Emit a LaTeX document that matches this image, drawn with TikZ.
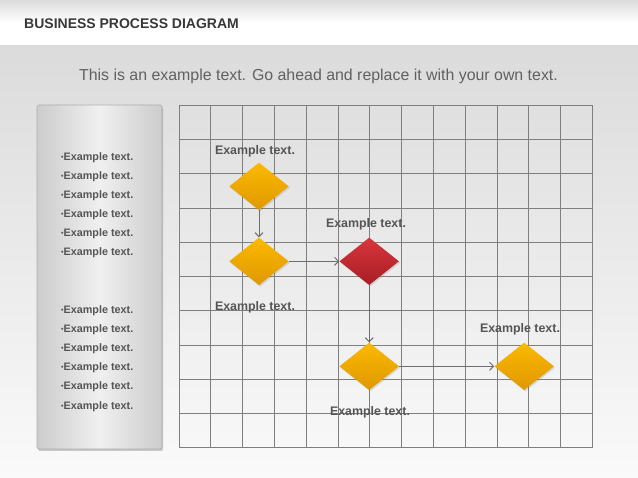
\documentclass[tikz,border=0pt]{standalone}
\usepackage{fontspec}
\setmainfont{Liberation Sans}
\usetikzlibrary{shapes.geometric,arrows.meta,shadows}
\definecolor{txtgray}{HTML}{555555}
\definecolor{gridgray}{HTML}{7F7F7F}
\definecolor{conngray}{HTML}{6E6E6E}
\definecolor{goldtop}{HTML}{FBB900}
\definecolor{goldbot}{HTML}{E09800}
\definecolor{redtop}{HTML}{D8353C}
\definecolor{redbot}{HTML}{A81E26}
\begin{document}
\begin{tikzpicture}[x=1pt,y=-1pt,
  golddia/.style={diamond, minimum width=59.5pt, minimum height=47.5pt, inner sep=0pt, draw=none,
     top color=goldtop, bottom color=goldbot, drop shadow={shadow xshift=1pt,shadow yshift=-1.5pt,opacity=0.25}},
  reddia/.style={golddia, top color=redtop, bottom color=redbot},
  lbl/.style={font=\bfseries\fontsize{12.4}{14}\selectfont, text=txtgray, inner sep=0pt},
  bul/.style={font=\bfseries\fontsize{10.8}{12}\selectfont, text=txtgray, inner sep=0pt, anchor=west},
  conn/.style={draw=conngray, line width=1pt, -{Straight Barb[length=4pt,width=8pt,line width=1pt]}}
]
\useasboundingbox (0,0) rectangle (638,478);
% background
\fill[top color=white!86!black, bottom color=white!98!black] (0,45) rectangle (638,478);
\fill[top color=white!86!black, bottom color=white, middle color=white] (0,0) rectangle (638,45);
\fill[white] (0,34) rectangle (638,45);
% title
\node[anchor=west, inner sep=0pt, font=\bfseries\fontsize{14}{16}\selectfont, text=black!78] (title) at (24,24) {BUSINESS PROCESS DIAGRAM};
\node[inner sep=0pt, font=\fontsize{15.9}{18}\selectfont, text=black!62] (subtitle) at (318.5,76) {This is an example text. Go ahead and replace it with your own text.};
% left panel
\node[draw=white!68!black, line width=0.6pt, rounded corners=1.5pt, minimum width=125pt, minimum height=344pt,
  left color=white!80!black, right color=white!80!black, middle color=white!94!black,
  drop shadow={shadow xshift=1pt,shadow yshift=-2pt,opacity=0.4}, inner sep=0pt] (panel) at (99.5,277) {};
\foreach \i/\yy in {1/156,2/175,3/194,4/213,5/232,6/251,7/309,8/328,9/347,10/366,11/385,12/405}{
  \node[bul] (b\i) at (61,\yy+1.8) {{\fontsize{7}{8}\selectfont\raisebox{0.8pt}{\textbullet}}Example text.};
}
% grid
\foreach \c in {0,...,13}{
  \draw[gridgray, line width=0.9pt] ({179+\c*31.8},105.3) -- ({179+\c*31.8},447.7);
}
\foreach \r in {0,...,10}{
  \draw[gridgray, line width=0.9pt] (179,{105.3+\r*34.24}) -- (592.4,{105.3+\r*34.24});
}
% diamonds
\node[golddia] (d1) at (259,186.3) {};
\node[golddia] (d2) at (259,261.3) {};
\node[reddia]  (d3) at (369.2,261.3) {};
\node[golddia] (d4) at (369.2,366.3) {};
\node[golddia] (d5) at (524.2,366.3) {};
% connectors
\draw[conn] (d1.south) -- (d2.north);
\draw[conn] (d2.east) -- (d3.west);
\draw[conn] (d3.south) -- (d4.north);
\draw[conn] (d4.east) -- (d5.west);
% labels
\node[lbl] (l1) at (255,151.3) {Example text.};
\node[lbl] (l2) at (366,223.8) {Example text.};
\node[lbl] (l3) at (255,306.8) {Example text.};
\node[lbl] (l4) at (520,328.8) {Example text.};
\node[lbl] (l5) at (370,412.3) {Example text.};
\end{tikzpicture}
\end{document}
